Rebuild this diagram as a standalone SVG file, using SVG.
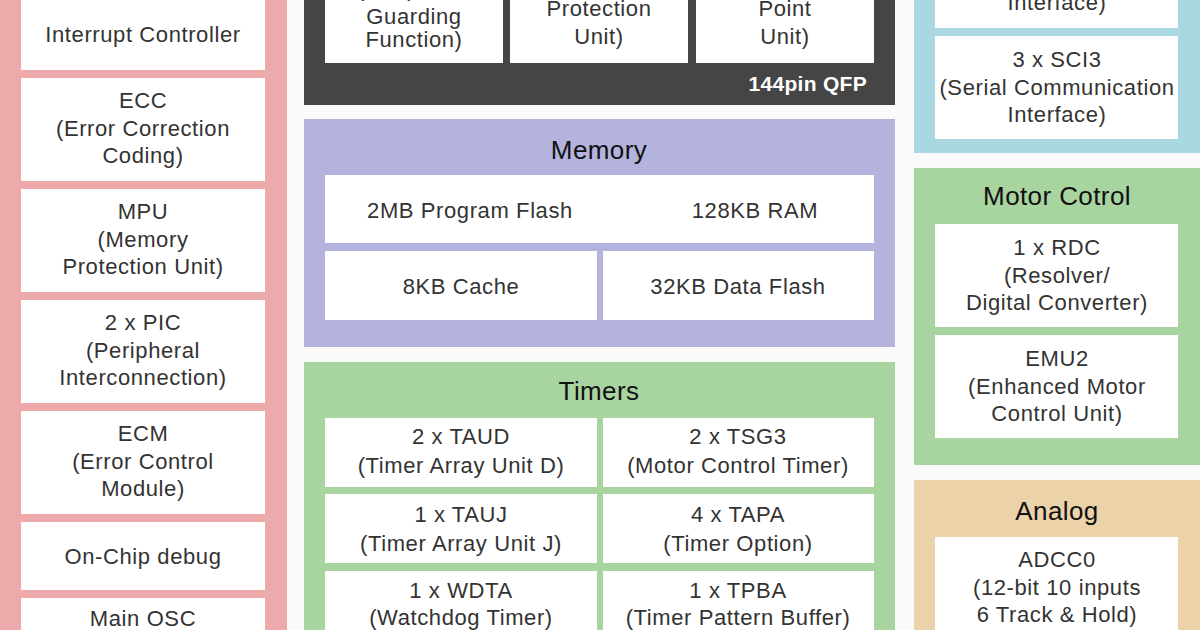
<svg xmlns="http://www.w3.org/2000/svg" width="1200" height="630" viewBox="0 0 1200 630">
<style>
text{font-family:"Liberation Sans",Arial,sans-serif;font-size:22px;letter-spacing:0.6px;fill:#333;text-anchor:middle}
.t{font-size:26px;letter-spacing:0.4px;fill:#111}
.b{fill:#fff}
</style>
<rect width="1200" height="630" fill="#fafafa"/>
<g id="left">
<rect x="0" y="-5" width="287" height="640" fill="#eeaaaa"/>
<rect class="b" x="21" y="-5" width="244" height="75"/><text x="143" y="42">Interrupt Controller</text>
<rect class="b" x="21" y="78" width="244" height="103"/><text x="143" y="108">ECC</text><text x="143" y="136">(Error Correction</text><text x="143" y="163">Coding)</text>
<rect class="b" x="21" y="189" width="244" height="103"/><text x="143" y="219">MPU</text><text x="143" y="247">(Memory</text><text x="143" y="274">Protection Unit)</text>
<rect class="b" x="21" y="300" width="244" height="103"/><text x="143" y="330">2 x PIC</text><text x="143" y="358">(Peripheral</text><text x="143" y="385">Interconnection)</text>
<rect class="b" x="21" y="411" width="244" height="103"/><text x="143" y="441">ECM</text><text x="143" y="469">(Error Control</text><text x="143" y="496">Module)</text>
<rect class="b" x="21" y="522" width="244" height="68"/><text x="143" y="564">On-Chip debug</text>
<rect class="b" x="21" y="598" width="244" height="40"/><text x="143" y="626">Main OSC</text>
</g>
<g id="cpu">
<rect x="304" y="-5" width="591" height="110" fill="#454545"/>
<rect class="b" x="325" y="-5" width="178" height="68"/><text x="414" y="-4">(Peripheral</text><text x="414" y="24">Guarding</text><text x="414" y="47">Function)</text>
<rect class="b" x="510" y="-5" width="178" height="68"/><text x="599" y="16">Protection</text><text x="599" y="44">Unit)</text>
<rect class="b" x="696" y="-5" width="178" height="68"/><text x="785" y="16">Point</text><text x="785" y="44">Unit)</text>
<text x="867" y="91" style="fill:#fff;text-anchor:end;font-weight:bold;font-size:21px;letter-spacing:0.3px">144pin QFP</text>
</g>
<g id="memory">
<rect x="304" y="119" width="591" height="228" fill="#b3b3dd"/>
<text class="t" x="599" y="159">Memory</text>
<rect class="b" x="325" y="175" width="549" height="68"/><text x="470" y="218">2MB Program Flash</text><text x="755" y="218">128KB RAM</text>
<rect class="b" x="325" y="251" width="272" height="69"/><text x="461" y="294">8KB Cache</text>
<rect class="b" x="603" y="251" width="271" height="69"/><text x="738" y="294">32KB Data Flash</text>
</g>
<g id="timers">
<rect x="304" y="362" width="591" height="275" fill="#a8d4a0"/>
<text class="t" x="599" y="400">Timers</text>
<rect class="b" x="325" y="418" width="272" height="69"/><text x="461" y="444">2 x TAUD</text><text x="461" y="473">(Timer Array Unit D)</text>
<rect class="b" x="603" y="418" width="271" height="69"/><text x="738" y="444">2 x TSG3</text><text x="738" y="473">(Motor Control Timer)</text>
<rect class="b" x="325" y="494" width="272" height="69"/><text x="461" y="522">1 x TAUJ</text><text x="461" y="551">(Timer Array Unit J)</text>
<rect class="b" x="603" y="494" width="271" height="69"/><text x="738" y="522">4 x TAPA</text><text x="738" y="551">(Timer Option)</text>
<rect class="b" x="325" y="571" width="272" height="69"/><text x="461" y="598">1 x WDTA</text><text x="461" y="625">(Watchdog Timer)</text>
<rect class="b" x="603" y="571" width="271" height="69"/><text x="738" y="598">1 x TPBA</text><text x="738" y="625">(Timer Pattern Buffer)</text>
</g>
<g id="comm">
<rect x="914" y="-5" width="291" height="158" fill="#aad8e2"/>
<rect class="b" x="935" y="-5" width="243" height="33"/><text x="1057" y="10">Interface)</text>
<rect class="b" x="935" y="36" width="243" height="103"/><text x="1057" y="67">3 x SCI3</text><text x="1057" y="95">(Serial Communication</text><text x="1057" y="122">Interface)</text>
</g>
<g id="motor">
<rect x="914" y="168" width="291" height="297" fill="#a8d4a0"/>
<text class="t" x="1057" y="205">Motor Cotrol</text>
<rect class="b" x="935" y="224" width="243" height="103"/><text x="1057" y="255">1 x RDC</text><text x="1057" y="283">(Resolver/</text><text x="1057" y="310">Digital Converter)</text>
<rect class="b" x="935" y="335" width="243" height="103"/><text x="1057" y="366">EMU2</text><text x="1057" y="394">(Enhanced Motor</text><text x="1057" y="421">Control Unit)</text>
</g>
<g id="analog">
<rect x="914" y="480" width="291" height="160" fill="#ecd2a8"/>
<text class="t" x="1057" y="520">Analog</text>
<rect class="b" x="935" y="537" width="243" height="103"/><text x="1057" y="567">ADCC0</text><text x="1057" y="595">(12-bit 10 inputs</text><text x="1057" y="622">6 Track &amp; Hold)</text>
</g>
<g id="connectors"/>
</svg>
